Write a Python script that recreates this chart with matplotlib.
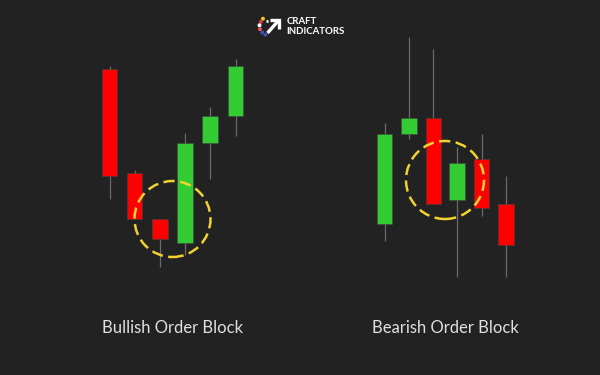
import matplotlib
matplotlib.use("Agg")
from matplotlib import pyplot as plt
from matplotlib.patches import Rectangle, Circle

# candle data (price units = pixels from the bottom of the picture)
bull_x = [109.5, 134.5, 160, 185, 210, 235.5]
bull_open = [306, 202, 156, 132, 232, 259]
bull_close = [199, 156, 136, 232, 259, 309]
bull_high = [309, 205, 156, 242, 268, 316]
bull_low = [176, 156, 108, 120, 196, 239]

bear_x = [384.7, 409, 433.3, 457, 481.7, 506]
bear_open = [151, 241, 257, 175, 216, 171]
bear_close = [241, 257, 171, 212, 167, 130]
bear_high = [252, 338, 326, 228, 241, 199]
bear_low = [134, 236, 171, 98, 159, 98]

labels = ["Bullish Order Block", "Bearish Order Block"]
label_x = [172, 445.5]

# highlight circles: (x, y, radius)
circles = [(172.5, 156, 38), (445, 195, 39)]

BG = "#222222"
UP = "#33cc33"
DOWN = "#ff0000"
WICK = "#6a6a6a"
BODY_W = 15.5

fig = plt.figure(figsize=(6, 3.75), dpi=100, facecolor=BG)
ax = fig.add_axes([0, 0, 1, 1])
ax.set_facecolor(BG)
ax.set_xlim(0, 600)
ax.set_ylim(0, 375)
ax.axis("off")


def draw_candles(xs, opens, closes, highs, lows):
    for x, o, c, h, l in zip(xs, opens, closes, highs, lows):
        col = UP if c >= o else DOWN
        ax.vlines(x, l, h, color=WICK, linewidth=0.9, zorder=1)
        lo, hi = min(o, c), max(o, c)
        ax.add_patch(Rectangle((x - BODY_W / 2, lo), BODY_W, hi - lo,
                               facecolor=col, edgecolor="#444444",
                               linewidth=0.4, zorder=2))


draw_candles(bull_x, bull_open, bull_close, bull_high, bull_low)
draw_candles(bear_x, bear_open, bear_close, bear_high, bear_low)

for cx, cy, r in circles:
    ax.add_patch(Circle((cx, cy), r, fill=False, edgecolor="#f2d22e",
                        linewidth=1.8, linestyle=(0, (4.5, 2.2)), zorder=3))

for lx, txt in zip(label_x, labels):
    ax.text(lx, 47, txt, color="#e0e0e0", fontsize=12, family="Lato",
            ha="center", va="center")

# logo
dot_x = [263, 260.8, 259.5, 260, 262.3, 265.5]
dot_y = [356.3, 353.2, 349.7, 345.8, 342.5, 340.3]
dot_c = ["#f5c518", "#e53935", "#ffffff", "#ef5350", "#3f51b5", "#3f51b5"]
ax.scatter(dot_x, dot_y, s=8, c=dot_c, zorder=4, linewidths=0)
ax.plot([267.5, 279], [342, 355], color="white", linewidth=2.4,
        solid_capstyle="butt")
ax.plot([270, 279, 279], [355, 355, 346], color="white", linewidth=2.4,
        solid_capstyle="butt", solid_joinstyle="miter")
ax.plot([265.5, 268], [354, 354], color="white", linewidth=2.0,
        solid_capstyle="butt")
ax.text(286.5, 354, "CRAFT", color="white", fontsize=6.9, fontweight="bold",
        family="Lato", ha="left", va="center")
ax.text(286.5, 344, "INDICATORS", color="white", fontsize=6.9, fontweight="bold",
        family="Lato", ha="left", va="center")

fig.savefig("out.png", dpi=100, facecolor=BG)
